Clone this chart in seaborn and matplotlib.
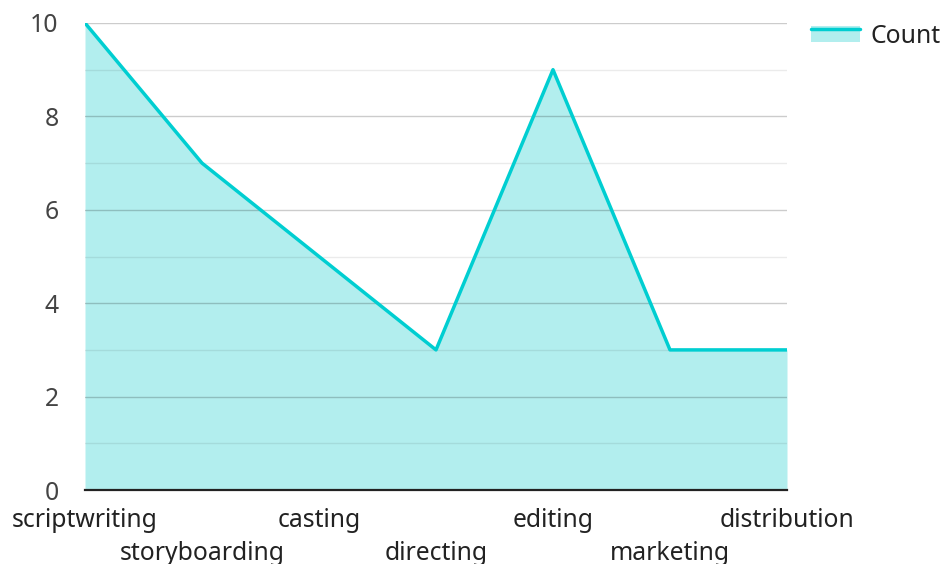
import matplotlib
matplotlib.use("Agg")
import matplotlib.pyplot as plt
import seaborn as sns
import pandas as pd
from matplotlib.patches import Rectangle
from matplotlib.lines import Line2D
from matplotlib.legend_handler import HandlerBase

categories = ["scriptwriting", "storyboarding", "casting", "directing",
              "editing", "marketing", "distribution"]
counts = [10, 7, 5, 3, 9, 3, 3]
y_ticks = [0, 2, 4, 6, 8, 10]
series_name = "Count"

sns.set_theme(style="white")
plt.rcParams['font.family'] = ['Noto Sans', 'DejaVu Sans']

df = pd.DataFrame({"pos": range(len(categories)), "category": categories, "value": counts})

fig = plt.figure(figsize=(9.44, 5.64), dpi=100)
ax = fig.add_axes([85/944, 1-490/564, (787-85)/944, (490-23)/564])

line_color = "#00CED1"
fill_color = "#B2EEEE"
FS = 17.8

ax.fill_between(df["pos"], df["value"], 0, color=fill_color, linewidth=0, zorder=0.3)
sns.lineplot(data=df, x="pos", y="value", ax=ax, color=line_color, linewidth=2.5,
             zorder=3, legend=False)

ax.set_xlim(0, len(categories) - 1)
ax.set_ylim(0, 10)
ax.set_axisbelow(True)
ax.set_yticks(y_ticks)
ax.set_yticks([1, 3, 5, 7, 9], minor=True)
ax.grid(axis="y", which="major", color="#000000", alpha=0.2, linewidth=1)
ax.grid(axis="y", which="minor", color="#000000", alpha=0.08, linewidth=1)
ax.grid(axis="x", visible=False)

ax.set_xticks(range(len(categories)))
labels = [("" if i % 2 == 0 else "\n") + c for i, c in enumerate(categories)]
ax.set_xticklabels(labels, fontsize=FS, color="#222222", linespacing=1.42)
ax.tick_params(axis="x", length=0, pad=13)
ax.tick_params(axis="y", which="both", length=0, pad=19, labelsize=FS, labelcolor="#444444")
ax.set_xlabel("")
ax.set_ylabel("")

for s in ["top", "right", "left"]:
    ax.spines[s].set_visible(False)
ax.spines["bottom"].set_color("#222222")
ax.spines["bottom"].set_linewidth(1.6)
ax.spines["bottom"].set_zorder(4)


class AreaHandler(HandlerBase):
    def create_artists(self, legend, orig_handle, xdescent, ydescent, width, height, fontsize, trans):
        r = Rectangle((-xdescent, -ydescent), width, height, facecolor=fill_color,
                      edgecolor="none", transform=trans)
        l = Line2D([-xdescent, -xdescent + width], [-ydescent + height * 0.85] * 2,
                   color=line_color, linewidth=2.5, transform=trans)
        return [r, l]


proxy = Rectangle((0, 0), 1, 1)
leg = fig.legend([proxy], [series_name], handler_map={Rectangle: AreaHandler()},
                 loc="upper left", bbox_to_anchor=(801/944, 1-14/564), frameon=False,
                 fontsize=FS, handlelength=2.0, handleheight=0.6, handletextpad=0.4,
                 borderpad=0.2, borderaxespad=0.2)
for t in leg.get_texts():
    t.set_color("#222222")

fig.savefig("out.png", dpi=100)
